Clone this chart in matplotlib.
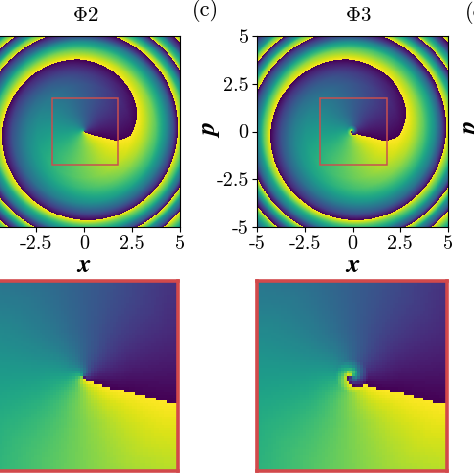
import numpy as np
import matplotlib
matplotlib.use("Agg")
import matplotlib.pyplot as plt
from matplotlib.patches import Rectangle

plt.rcParams["font.family"] = "cmr10"
plt.rcParams["mathtext.fontset"] = "cm"
plt.rcParams["axes.unicode_minus"] = False

# where the phase jump sits: radius and unwrapped angle (deg)
cut_r_2 = [0.0, 0.1, 0.2, 0.3, 0.88, 1.71, 2.43, 2.93, 3.26, 3.73, 4.25, 4.65, 4.9,
           5.18, 5.28, 5.39, 5.55, 5.62, 5.72, 5.85, 5.95, 6.1, 6.35, 6.5, 6.8, 7.2]
cut_a_2 = [-70, -60, -35, -28, -19, -17, -6, 19, 46, 93, 181, 272, 360,
           435, 469, 518, 566, 606, 660, 720, 765, 855, 945, 1035, 1125, 1250]
cut_r_3 = [0.0, 0.1, 0.15, 0.3, 0.88, 1.78, 2.45, 2.98, 3.3, 3.73, 4.29, 4.65, 4.9,
           5.18, 5.28, 5.39, 5.55, 5.62, 5.72, 5.85, 5.95, 6.1, 6.35, 6.5, 6.8, 7.2]
cut_a_3 = [-200, -170, -100, -30, -19, -17, -6, 19, 46, 93, 181, 272, 360,
           435, 469, 518, 566, 606, 660, 720, 765, 855, 945, 1035, 1125, 1250]

titles = ["$\\Phi$2", "$\\Phi$3"]
ticks = [-5, -2.5, 0, 2.5, 5]
tick_labels = ["-5", "-2.5", "0", "2.5", "5"]
box_x = [-1.7, 1.8]
box_y = [-1.75, 1.75]
zoom_lim = 1.75

RED = "#d2494b"
W = 474.0
H = 474.0


def ax_px(fig, left, top, right, bottom):
    return fig.add_axes([left / W, 1 - bottom / H, (right - left) / W, (bottom - top) / H])


def phase(cut_r, cut_a):
    n = 200
    c = (np.arange(n) + 0.5) * 10.0 / n - 5
    x, y = np.meshgrid(c, c)
    r = np.hypot(x, y)
    th = np.degrees(np.arctan2(y, x))
    return np.mod(th - np.interp(r, cut_r, cut_a), 360) / 360


fig = plt.figure(figsize=(4.74, 4.74), dpi=100)

panels = [
    (phase(cut_r_2, cut_a_2), -11.5, 85.5, -12, 178),
    (phase(cut_r_3, cut_a_3), 257, 358, 257, 447),
]

for i, (z, left, title_x, zl, zr) in enumerate(panels):
    ax = ax_px(fig, left, 36, left + 191, 227)
    ax.imshow(z, cmap="viridis", vmin=0, vmax=1, origin="lower",
              extent=[-5, 5, -5, 5], interpolation="nearest", aspect="auto")
    ax.add_patch(Rectangle((box_x[0], box_y[0]), box_x[1] - box_x[0], box_y[1] - box_y[0],
                           fill=False, edgecolor="#c8504f", lw=1.1))
    ax.set_xticks(ticks)
    ax.set_xticklabels(tick_labels)
    ax.set_yticks(ticks)
    ax.set_yticklabels(tick_labels)
    ax.tick_params(labelsize=14.5, length=3.5, width=0.8, pad=2.5)
    ax.set_xlabel("x", fontfamily="STIXGeneral", style="italic", weight="bold",
                  fontsize=19, labelpad=0)
    ax.set_ylabel("p", fontfamily="STIXGeneral", style="italic", weight="bold",
                  fontsize=19, labelpad=-5)
    fig.text(title_x / W, 1 - 16 / H, titles[i], fontsize=15, ha="center", va="center")

    az = ax_px(fig, zl, 281, zr, 471)
    az.imshow(z, cmap="viridis", vmin=0, vmax=1, origin="lower",
              extent=[-5, 5, -5, 5], interpolation="nearest", aspect="auto")
    az.set_xlim(-zoom_lim, zoom_lim)
    az.set_ylim(-zoom_lim, zoom_lim)
    az.set_xticks([])
    az.set_yticks([])
    for s in az.spines.values():
        s.set_color(RED)
        s.set_linewidth(2.6)

fig.text(205.5 / W, 1 - 11 / H, "(c)", fontsize=16, ha="center", va="center")
fig.text(465 / W, 1 - 13 / H, "(d)", fontsize=16, ha="left", va="center")
fig.text(472 / W, 1 - 130 / H, "p", fontfamily="STIXGeneral", style="italic", weight="bold",
         fontsize=19, rotation=90, ha="center", va="center")

fig.savefig("out.png", dpi=100)
